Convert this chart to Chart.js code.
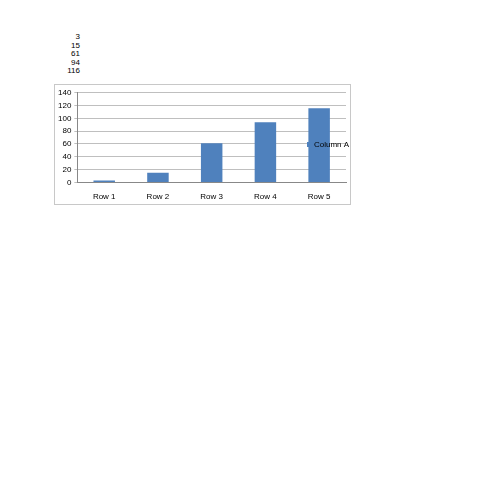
<!DOCTYPE html><html><head><script src="https://cdn.jsdelivr.net/npm/chart.js@4"></script>
<style>body{margin:0;background:#fff;font-family:"Liberation Sans",Arial,sans-serif}
#nums{position:absolute;left:60px;top:33px;width:20px;text-align:right;font-size:8px;line-height:8.5px;color:#000}
#box{position:absolute;left:54px;top:84px;width:295px;height:119px;border:1px solid #c8c8c8}
</style></head><body>
<div id="nums"></div>
<div id="box"><canvas id="c"></canvas></div>
<script>
const categories=["Row 1","Row 2","Row 3","Row 4","Row 5"];
const values=[3,15,61,94,116];
const seriesName="Column A";
document.getElementById('nums').innerHTML=values.join('<br>');
const legendPlugin={id:'lg',afterDraw(ch){const c=ch.ctx;c.save();c.fillStyle='#4f81bd';c.fillRect(252,57,5,5);c.fillStyle='#000';c.font='8px "Liberation Sans"';c.textBaseline='middle';c.fillText(seriesName,259,60);c.restore();}};
new Chart(document.getElementById('c'),{type:'bar',data:{labels:categories,datasets:[{label:seriesName,data:values,backgroundColor:'#4f81bd',barPercentage:0.4,categoryPercentage:1}]},
options:{responsive:true,maintainAspectRatio:false,animation:false,layout:{padding:{top:0,right:4,left:0,bottom:0}},
plugins:{legend:{display:false},tooltip:{enabled:false}},
scales:{y:{min:0,max:140,ticks:{stepSize:20,autoSkip:false,color:'#000',font:{size:8},padding:3},grid:{color:'#bfbfbf',drawTicks:true,tickLength:3},border:{color:'#888'}},
x:{ticks:{color:'#000',font:{size:8},padding:2},grid:{display:false},border:{color:'#888'}}}},plugins:[legendPlugin]});
</script></body></html>
